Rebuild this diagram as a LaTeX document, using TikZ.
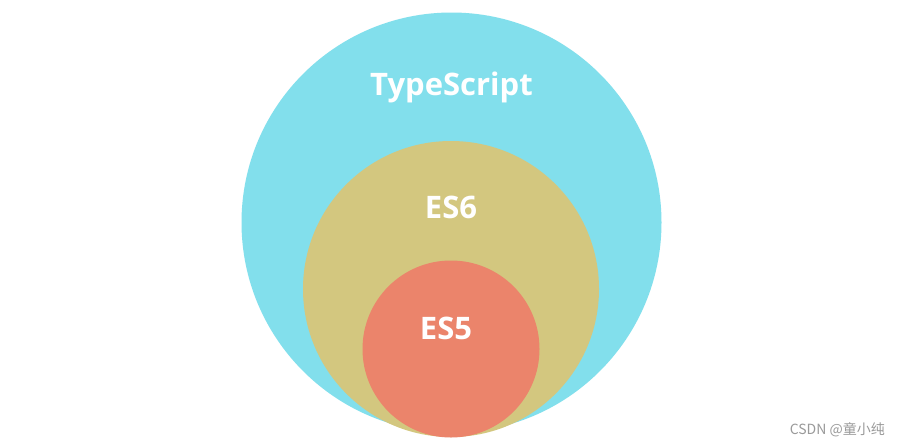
\documentclass[tikz,border=0pt]{standalone}
\usepackage{fontspec}
\setmainfont{Open Sans}
\newfontfamily\cjkfont{Noto Sans CJK SC}
\definecolor{tscol}{HTML}{82DFEC}
\definecolor{escol}{HTML}{D3C77F}
\definecolor{efcol}{HTML}{EB846B}
\definecolor{wmcol}{HTML}{9A9A9A}
\begin{document}
\begin{tikzpicture}[x=1pt,y=-1pt,
  blob/.style={circle,inner sep=0pt,draw=none},
  lbl/.style={text=white,font=\fontsize{31}{36}\selectfont\bfseries,inner sep=0pt,anchor=center}]
\useasboundingbox (0,0) rectangle (901,447);
\fill[white] (0,0) rectangle (901,447);
\node[blob,fill=tscol,minimum size=420pt] (ts) at (451.5,222.5) {};
\node[blob,fill=escol,minimum size=296pt] (es6) at (451,289) {};
\node[blob,fill=efcol,minimum size=177pt] (es5) at (451,349) {};
\node[lbl] (tslbl) at (451.5,87) {TypeScript};
\node[lbl] (es6lbl) at (451,207) {ES6};
\node[lbl] (es5lbl) at (446,328) {ES5};
\node[text=wmcol,font=\cjkfont\fontsize{14}{16}\selectfont,inner sep=0pt,anchor=east] (wm) at (885,430) {CSDN @童小纯};
\end{tikzpicture}
\end{document}
